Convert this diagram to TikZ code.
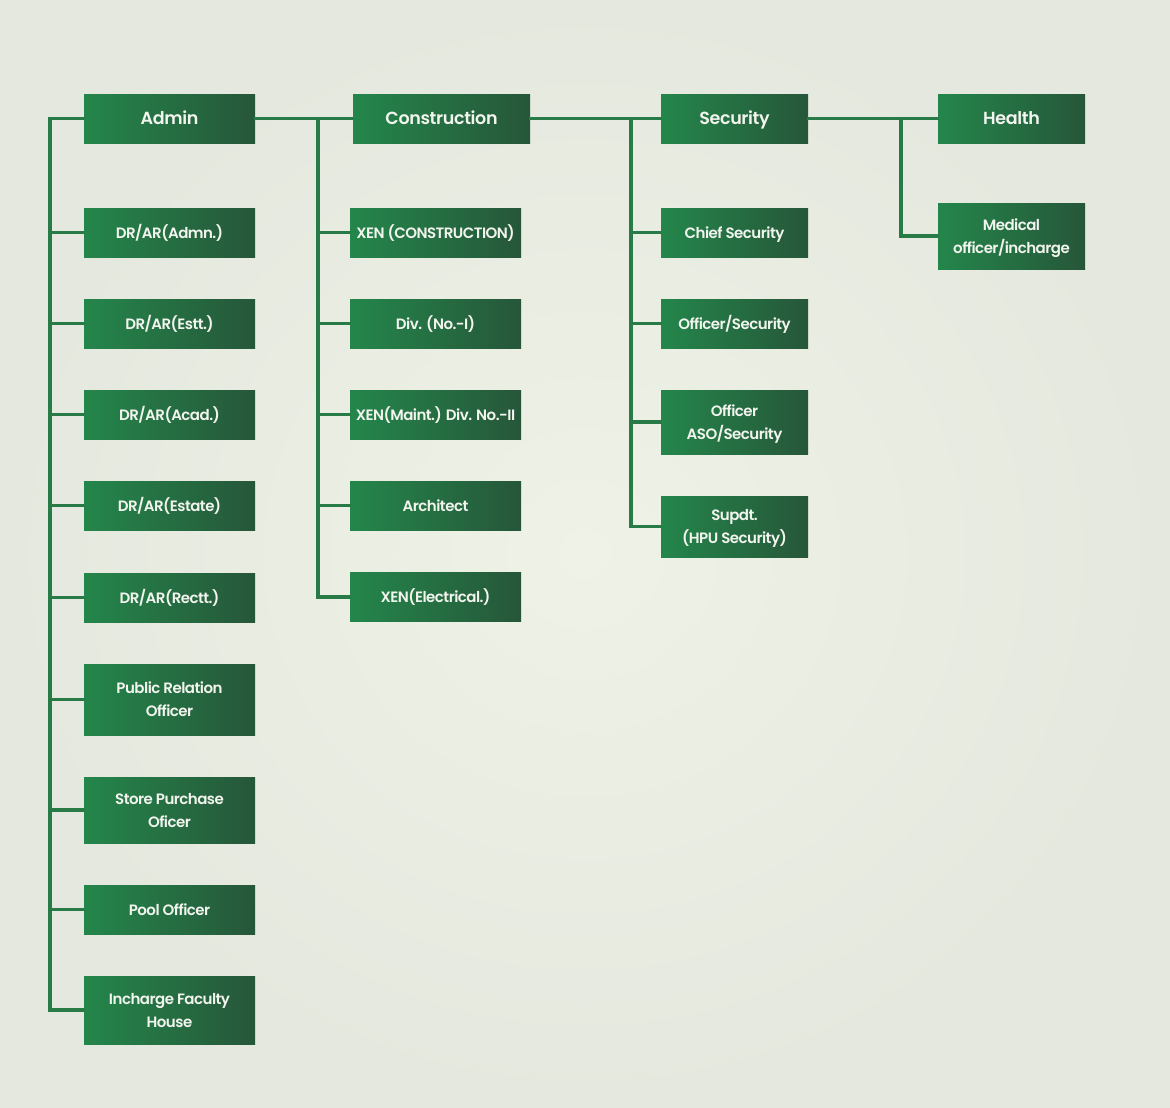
\documentclass[tikz,border=0pt]{standalone}
\usepackage{fontspec}
\setmainfont{Poppins}
\newfontfamily\pmed[LetterSpace=-3.5]{Poppins SemiBold}
\newfontfamily\psemi[LetterSpace=-2]{Poppins SemiBold}
\definecolor{bg}{RGB}{239,242,230}
\definecolor{bgedge}{RGB}{228,232,222}
\definecolor{gl}{RGB}{36,134,75}
\definecolor{gr}{RGB}{38,86,57}
\definecolor{ln}{RGB}{40,122,70}
\definecolor{tx}{RGB}{242,244,238}
\tikzset{
  box/.style={rectangle, inner sep=0pt, left color=gl, right color=gr, shading angle=90,
    text=tx, align=center, font=\pmed\fontsize{15}{23}\selectfont,
    text height=11pt, text depth=0pt},
  two/.style={text height=34pt},
  headbox/.style={box, minimum height=49pt, font=\psemi\fontsize{17.5}{22}\selectfont, text height=12.5pt},
  conn/.style={draw=ln, line width=3.1pt, line cap=rect},
}
\begin{document}
\begin{tikzpicture}[x=1pt,y=-1pt]
\shade[inner color=bg, outer color=bgedge] (0,0) rectangle (1170,1108);
\useasboundingbox (0,0) rectangle (1170,1108);
% headers
\node[headbox, minimum width=171pt] (admin) at (169.5,118.5) {Admin};
\node[headbox, minimum width=177pt] (cons) at (441.5,118.5) {Construction};
\node[headbox, minimum width=147pt] (sec) at (734.5,118.5) {Security};
\node[headbox, minimum width=147pt] (hea) at (1011.5,118.5) {Health};
% admin children
\node[box, minimum width=171pt, minimum height=49pt] (a1) at (169.5,232.5) {DR/AR(Admn.)};
\node[box, minimum width=171pt, minimum height=49pt] (a2) at (169.5,323.5) {DR/AR(Estt.)};
\node[box, minimum width=171pt, minimum height=49pt] (a3) at (169.5,414.5) {DR/AR(Acad.)};
\node[box, minimum width=171pt, minimum height=49pt] (a4) at (169.5,505.5) {DR/AR(Estate)};
\node[box, minimum width=171pt, minimum height=49pt] (a5) at (169.5,597.5) {DR/AR(Rectt.)};
\node[box, two, minimum width=171pt, minimum height=71pt] (a6) at (169.5,699.5) {Public Relation\\Officer};
\node[box, two, minimum width=171pt, minimum height=66pt] (a7) at (169.5,810) {Store Purchase\\Oficer};
\node[box, minimum width=171pt, minimum height=49pt] (a8) at (169.5,909.5) {Pool Officer};
\node[box, two, minimum width=171pt, minimum height=68pt] (a9) at (169.5,1010) {Incharge Faculty\\House};
% construction children
\node[box, minimum width=171pt, minimum height=49pt] (c1) at (435.5,232.5) {XEN (CONSTRUCTION)};
\node[box, minimum width=171pt, minimum height=49pt] (c2) at (435.5,323.5) {Div. (No.-I)};
\node[box, minimum width=171pt, minimum height=49pt] (c3) at (435.5,414.5) {XEN(Maint.) Div. No.-II};
\node[box, minimum width=171pt, minimum height=49pt] (c4) at (435.5,505.5) {Architect};
\node[box, minimum width=171pt, minimum height=49pt] (c5) at (435.5,597) {XEN(Electrical.)};
% security children
\node[box, minimum width=147pt, minimum height=49pt] (s1) at (734.5,232.5) {Chief Security};
\node[box, minimum width=147pt, minimum height=49pt] (s2) at (734.5,323.5) {Officer/Security};
\node[box, two, minimum width=147pt, minimum height=64pt] (s3) at (734.5,422) {Officer\\ASO/Security};
\node[box, two, minimum width=147pt, minimum height=61pt] (s4) at (734.5,526.5) {Supdt.\\(HPU Security)};
% health child
\node[box, two, minimum width=147pt, minimum height=66pt] (h1) at (1011.5,236) {Medical\\officer/incharge};
% top links
\draw[conn] (admin.east) -- (cons.west);
\draw[conn] (cons.east) -- (sec.west);
\draw[conn] (sec.east) -- (hea.west);
% trunks
\coordinate (ta) at (50,118.5);
\coordinate (tc) at (318,118.5);
\coordinate (ts) at (631,118.5);
\coordinate (th) at (901,118.5);
\draw[conn] (admin.west) -- (ta) -- (ta |- a9.west) -- (a9.west);
\foreach \n in {a1,a2,a3,a4,a5,a6,a7,a8} \draw[conn] (ta |- \n.west) -- (\n.west);
\draw[conn] (tc) -- (tc |- c5.west) -- (c5.west);
\foreach \n in {c1,c2,c3,c4} \draw[conn] (tc |- \n.west) -- (\n.west);
\draw[conn] (ts) -- (ts |- s4.west) -- (s4.west);
\foreach \n in {s1,s2,s3} \draw[conn] (ts |- \n.west) -- (\n.west);
\draw[conn] (th) -- (th |- h1.west) -- (h1.west);
\end{tikzpicture}
\end{document}
